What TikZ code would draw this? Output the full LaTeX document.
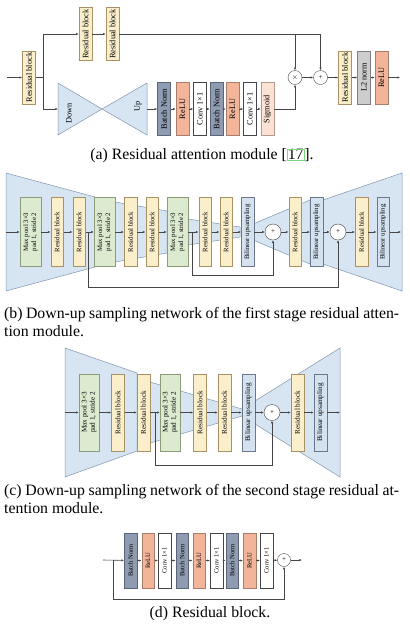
\documentclass[tikz,border=0pt]{standalone}
\usepackage{fontspec}
\setmainfont{Liberation Serif}
\usetikzlibrary{arrows.meta}

\definecolor{resfill}{HTML}{FBEFCB}
\definecolor{resline}{HTML}{A89265}
\definecolor{poolfill}{HTML}{DCEAD0}
\definecolor{poolline}{HTML}{8C9C78}
\definecolor{bilfill}{HTML}{D4E2F0}
\definecolor{billine}{HTML}{69788C}
\definecolor{bnfill}{HTML}{8E9BB0}
\definecolor{bnline}{HTML}{5B6579}
\definecolor{relufill}{HTML}{F2B59A}
\definecolor{reluline}{HTML}{A97D69}
\definecolor{sigfill}{HTML}{FBE2D4}
\definecolor{sigline}{HTML}{B39A8C}
\definecolor{normfill}{HTML}{CDCDCD}
\definecolor{normline}{HTML}{808080}
\definecolor{trapfill}{HTML}{D7E5F2}
\definecolor{trapline}{HTML}{7F94AD}
\definecolor{wirecol}{HTML}{454545}
\definecolor{citebox}{HTML}{7FD67F}

\tikzset{
  blk/.style={draw,rotate=90,inner sep=0pt,align=center,line width=0.5pt},
  res/.style={blk,fill=resfill,draw=resline},
  pool/.style={blk,fill=poolfill,draw=poolline},
  bil/.style={blk,fill=bilfill,draw=billine},
  bn/.style={blk,fill=bnfill,draw=bnline},
  relu/.style={blk,fill=relufill,draw=reluline},
  conv/.style={blk,fill=white,draw=wirecol},
  sig/.style={blk,fill=sigfill,draw=sigline},
  nrm/.style={blk,fill=normfill,draw=normline},
  add/.style={circle,draw=wirecol,fill=white,inner sep=0pt,minimum size=#1,font=\fontsize{7}{7}\selectfont},
  trap/.style={fill=trapfill,draw=trapline,line width=0.5pt},
  wire/.style={draw=wirecol,line width=0.6pt},
  arr/.style={wire,-{Latex[length=2.6pt,width=2.2pt]}},
  capt/.style={inner sep=0pt,align=left,font=\fontsize{15.8}{18}\selectfont}
}

\begin{document}
\begin{tikzpicture}[x=1pt,y=-1pt]
\useasboundingbox (0,0) rectangle (410,633);

% (a)
\begin{scope}[blk/.append style={minimum width=53,minimum height=13,font=\fontsize{8.3}{9}\selectfont}]
  \filldraw[trap] (58,83) -- (102,109) -- (58,135) -- cycle;
  \filldraw[trap] (147,83) -- (102,109) -- (147,135) -- cycle;
  \node[rotate=90,font=\fontsize{8.3}{9}\selectfont] (adown) at (69,113) {Down};
  \node[rotate=90,font=\fontsize{8.3}{9}\selectfont] (aup) at (138,106) {Up};
  \coordinate (ain) at (7,77.5);
  \coordinate (abr) at (43,77.5);
  \coordinate (adin) at (58,109);
  \coordinate (aupo) at (147,109);
  \coordinate (atj) at (295,34);
  \coordinate (aout) at (400,77.5);
  \node[res] (ar0) at (29,77.5) {Residual block};
  \node[res] (ar1) at (85.5,34) {Residual block};
  \node[res] (ar2) at (112.5,34) {Residual block};
  \node[bn] (ab1) at (164,109) {Batch Norm};
  \node[relu] (ae1) at (182.5,109) {ReLU};
  \node[conv] (ac1) at (200,109) {Conv 1×1};
  \node[bn] (ab2) at (216.5,109) {Batch Norm};
  \node[relu] (ae2) at (232.5,109) {ReLU};
  \node[conv] (ac2) at (250,109) {Conv 1×1};
  \node[sig] (asg) at (267.5,109) {Sigmoid};
  \node[add=14] (amul) at (295,77.5) {$\times$};
  \node[add=14] (aadd) at (320.5,77.5) {+};
  \node[res] (ar3) at (345,77.5) {Residual block};
  \node[nrm] (al2) at (364,77.5) {L2 norm};
  \node[relu] (ae3) at (381.5,77.5) {ReLU};
  \draw[arr] (ain) -- (ar0);
  \draw[wire] (ar0) -- (abr);
  \draw[arr] (abr) |- (ar1);
  \draw[arr] (abr) |- (adin);
  \draw[arr] (ar2) -| (aadd);
  \draw[arr] (atj) -- (amul);
  \draw[arr] (aupo) -- (ab1);
  \draw[arr] (asg) -| (amul);
  \foreach \p/\q in {ar1/ar2,ab1/ae1,ae1/ac1,ac1/ab2,ab2/ae2,ae2/ac2,ac2/asg,amul/aadd,aadd/ar3,ar3/al2,al2/ae3,ae3/aout}
    \draw[arr] (\p) -- (\q);
\end{scope}
\node[capt] (capa) at (202,156) {(a) Residual attention module [{\setlength\fboxsep{0.3pt}\setlength\fboxrule{0.6pt}\fcolorbox{citebox}{white}{17}}].};

% (b)
\begin{scope}[blk/.append style={minimum width=69,minimum height=12.5,font=\fontsize{6.8}{7.8}\selectfont},
              pool/.append style={minimum height=21}]
  \filldraw[trap] (6,173) -- (95,197) -- (95,267) -- (6,291) -- cycle;
  \filldraw[trap] (115,202) -- (167,211) -- (167,253) -- (115,262) -- cycle;
  \filldraw[trap] (188,219) -- (240,227) -- (240,237) -- (188,245) -- cycle;
  \filldraw[trap] (253,224) -- (310,200) -- (310,264) -- (253,240) -- cycle;
  \filldraw[trap] (323,200) -- (402,173) -- (402,291) -- (323,264) -- cycle;
  \coordinate (bin) at (6,232);
  \coordinate (bout) at (401,232);
  \coordinate (bk1) at (88,232);
  \coordinate (bk2) at (192,232);
  \node[pool] (bp1) at (30.5,232) {Max pool 3×3\\pad 1, stride 2};
  \node[res] (br1) at (57,232) {Residual block};
  \node[res] (br2) at (79,232) {Residual block};
  \node[pool] (bp2) at (104.5,232) {Max pool 3×3\\pad 1, stride 2};
  \node[res] (br3) at (130.5,232) {Residual block};
  \node[res] (br4) at (152,232) {Residual block};
  \node[pool] (bp3) at (177.5,232) {Max pool 3×3\\pad 1, stride 2};
  \node[res] (br5) at (205,232) {Residual block};
  \node[res] (br6) at (226,232) {Residual block};
  \node[bil] (bu1) at (247.5,232) {Bilinear upsampling};
  \node[add=16] (bs1) at (273,232) {+};
  \node[res] (br7) at (295,232) {Residual block};
  \node[bil] (bu2) at (316.5,232) {Bilinear upsampling};
  \node[add=16] (bs2) at (338,232) {+};
  \node[res] (br8) at (361.5,232) {Residual block};
  \node[bil] (bu3) at (383,232) {Bilinear upsampling};
  \foreach \p/\q in {bin/bp1,bp1/br1,br1/br2,br2/bp2,bp2/br3,br3/br4,br4/bp3,bp3/br5,br5/br6,br6/bu1,bu1/bs1,bs1/br7,br7/bu2,bu2/bs2,bs2/br8,br8/bu3,bu3/bout}
    \draw[arr] (\p) -- (\q);
  \draw[arr] (bk1) -- ++(0,55) -| (bs2);
  \draw[arr] (bk2) -- ++(0,43) -| (bs1);
\end{scope}
\node[capt,anchor=north west] (capb) at (4,307) {\makebox[395pt][s]{(b) Down-up sampling network of the first stage residual atten-}\\tion module.};

% (c)
\begin{scope}[blk/.append style={minimum width=77,minimum height=13,font=\fontsize{7.2}{8.2}\selectfont},
              pool/.append style={minimum height=20}]
  \filldraw[trap] (65,348) -- (137,373) -- (137,451) -- (65,477) -- cycle;
  \filldraw[trap] (150,382) -- (242,409) -- (242,416) -- (150,443) -- cycle;
  \filldraw[trap] (255,401) -- (340,348) -- (340,477) -- (255,424) -- cycle;
  \coordinate (cin) at (65,412.5);
  \coordinate (cout) at (340,412.5);
  \coordinate (ck1) at (155,412.5);
  \node[pool] (cp1) at (89,412.5) {Max pool 3×3\\pad 1, stride 2};
  \node[res] (cr1) at (118,412.5) {Residual block};
  \node[res] (cr2) at (143.5,412.5) {Residual block};
  \node[pool] (cp2) at (170,412.5) {Max pool 3×3\\pad 1, stride 2};
  \node[res] (cr3) at (200,412.5) {Residual block};
  \node[res] (cr4) at (224.5,412.5) {Residual block};
  \node[bil] (cu1) at (248.5,412.5) {Bilinear upsampling};
  \node[add=16] (cs1) at (272,412.5) {+};
  \node[res] (cr5) at (297.5,412.5) {Residual block};
  \node[bil] (cu2) at (320.5,412.5) {Bilinear upsampling};
  \foreach \p/\q in {cin/cp1,cp1/cr1,cr1/cr2,cr2/cp2,cp2/cr3,cr3/cr4,cr4/cu1,cu1/cs1,cs1/cr5,cr5/cu2,cu2/cout}
    \draw[arr] (\p) -- (\q);
  \draw[arr] (ck1) -- ++(0,52.5) -| (cs1);
\end{scope}
\node[capt,anchor=north west] (capc) at (4,484) {\makebox[395pt][s]{(c) Down-up sampling network of the second stage residual at-}\\tention module.};

% (d)
\begin{scope}[blk/.append style={minimum width=55,minimum height=12.5,font=\fontsize{6.6}{7.6}\selectfont}]
  \coordinate (din) at (103,560);
  \coordinate (dbr) at (113,560);
  \coordinate (dout) at (302,560);
  \node[bn] (db1) at (130.5,560.5) {Batch Norm};
  \node[relu] (de1) at (148,560.5) {ReLU};
  \node[conv] (dc1) at (164.5,560.5) {Conv 1×1};
  \node[bn] (db2) at (182,560.5) {Batch Norm};
  \node[relu] (de2) at (199,560.5) {ReLU};
  \node[conv] (dc2) at (216.5,560.5) {Conv 1×1};
  \node[bn] (db3) at (232,560.5) {Batch Norm};
  \node[relu] (de3) at (249.5,560.5) {ReLU};
  \node[conv] (dc3) at (266.5,560.5) {Conv 1×1};
  \node[add=13] (ds) at (284,560) {+};
  \foreach \p/\q in {din/db1,db1/de1,de1/dc1,dc1/db2,db2/de2,de2/dc2,dc2/db3,db3/de3,de3/dc3,dc3/ds,ds/dout}
    \draw[arr] (\p) -- (\q);
  \draw[arr] (dbr) -- ++(0,39) -| (ds);
\end{scope}
\node[capt] (capd) at (210,614) {(d) Residual block.};
\end{tikzpicture}
\end{document}
